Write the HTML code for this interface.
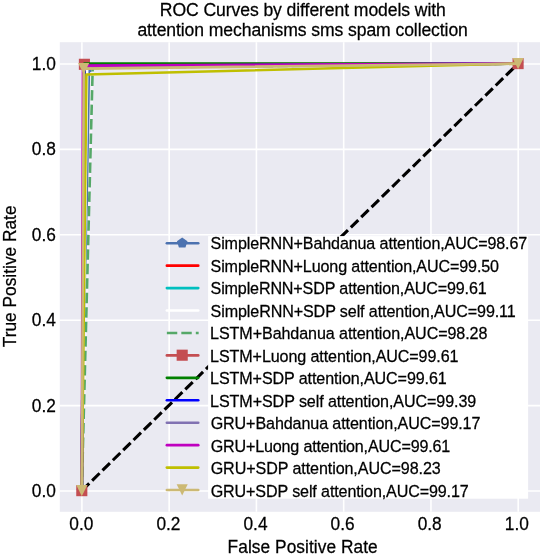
<!DOCTYPE html>
<html><head><meta charset="utf-8"><title>ROC Curves</title>
<style>html,body{margin:0;padding:0;background:#fff}body{width:551px;height:558px;overflow:hidden}svg{display:block}</style>
</head><body>
<svg width="551" height="558" viewBox="0 0 551 558" font-family="'Liberation Sans', sans-serif" fill="#000">
<rect x="0" y="0" width="551" height="558" fill="#fff"/>
<rect x="59.8" y="42.2" width="480.20" height="469.60" fill="#EAEAF2"/>
<path d="M81.90 42.2V511.8M59.8 491.00H540.0M169.16 42.2V511.8M59.8 405.60H540.0M256.42 42.2V511.8M59.8 320.20H540.0M343.68 42.2V511.8M59.8 234.80H540.0M430.94 42.2V511.8M59.8 149.40H540.0M518.20 42.2V511.8M59.8 64.00H540.0" stroke="#fff" stroke-width="1.6" fill="none"/>
<clipPath id="c"><rect x="59.8" y="42.2" width="480.20" height="469.60"/></clipPath>
<g clip-path="url(#c)" fill="none" stroke-linejoin="round" stroke-linecap="round">
<path d="M81.8 490.65L518.1 63.6" stroke="#000" stroke-width="3.1" stroke-dasharray="10.4 4.08" stroke-linecap="butt"/>
<path d="M81.8 490.65L88.9 67.5L518.1 63.6" stroke="#4C72B0" stroke-width="2.6"/>
<path d="M81.80 485.10L76.52 488.93L78.54 495.14L85.06 495.14L87.08 488.93Z" fill="#4C72B0" stroke="none"/>
<path d="M88.90 61.95L83.62 65.78L85.64 71.99L92.16 71.99L94.18 65.78Z" fill="#4C72B0" stroke="none"/>
<path d="M518.10 58.05L512.82 61.88L514.84 68.09L521.36 68.09L523.38 61.88Z" fill="#4C72B0" stroke="none"/>
<path d="M81.8 490.65L84.0 65.5L518.1 63.6" stroke="#FF0000" stroke-width="2.6"/>
<path d="M81.8 490.65L84.0 65.0L518.1 63.6" stroke="#00BFBF" stroke-width="2.6"/>
<path d="M81.8 490.65L87.2 67.0L518.1 63.6" stroke="#FFFFFF" stroke-width="2.6"/>
<path d="M81.8 490.65L92.7 67.9L518.1 63.6" stroke="#F6F2FB" stroke-width="2.4" stroke-linecap="butt"/>
<path d="M81.8 490.65L92.7 67.9L518.1 63.6" stroke="#55A868" stroke-width="2.6" stroke-dasharray="10.4 4.08" stroke-dashoffset="0.7" stroke-linecap="butt"/>
<path d="M81.8 490.65L84.4 64.3L518.1 63.6" stroke="#C44E52" stroke-width="2.6"/>
<rect x="76.25" y="485.10" width="11.1" height="11.1" fill="#C44E52" stroke="none"/>
<rect x="78.85" y="58.75" width="11.1" height="11.1" fill="#C44E52" stroke="none"/>
<rect x="512.55" y="58.05" width="11.1" height="11.1" fill="#C44E52" stroke="none"/>
<path d="M81.8 490.65L84.4 63.6L518.1 63.6" stroke="#008000" stroke-width="2.6"/>
<path d="M81.8 490.65L84.4 66.0L518.1 63.6" stroke="#0000FF" stroke-width="2.6"/>
<path d="M81.8 490.65L84.0 66.5L518.1 63.6" stroke="#8172B2" stroke-width="2.6"/>
<path d="M81.8 490.65L82.9 65.6L518.1 63.6" stroke="#BF00BF" stroke-width="2.6"/>
<path d="M81.8 490.65L86.4 74.5L518.1 63.6" stroke="#BFBF00" stroke-width="2.6"/>
<path d="M81.8 490.65L83.7 68.6L518.1 63.6" stroke="#CCB974" stroke-width="2.6"/>
<path d="M81.80 496.20L76.25 485.10L87.35 485.10Z" fill="#CCB974" stroke="none"/>
<path d="M83.70 74.15L78.15 63.05L89.25 63.05Z" fill="#CCB974" stroke="none"/>
<path d="M518.10 69.15L512.55 58.05L523.65 58.05Z" fill="#CCB974" stroke="none"/>
</g>
<rect x="208.1" y="236.1" width="320.00" height="262.60" fill="#fff"/>
<path d="M166.85 243.20H198.25" stroke="#4C72B0" stroke-width="2.6" fill="none" stroke-linecap="round"/>
<path d="M182.20 237.45L176.92 241.28L178.94 247.49L185.46 247.49L187.48 241.28Z" fill="#4C72B0" stroke="none"/>
<path d="M166.85 265.64H198.25" stroke="#FF0000" stroke-width="2.6" fill="none" stroke-linecap="round"/>
<path d="M166.85 288.08H198.25" stroke="#00BFBF" stroke-width="2.6" fill="none" stroke-linecap="round"/>
<path d="M166.85 310.52H198.25" stroke="#FFFFFF" stroke-width="2.6" fill="none" stroke-linecap="round"/>
<path d="M166.85 332.96H198.65" stroke="#55A868" stroke-width="2.6" fill="none" stroke-dasharray="10.4 4.08"/>
<path d="M166.85 355.40H198.25" stroke="#C44E52" stroke-width="2.6" fill="none" stroke-linecap="round"/>
<rect x="176.65" y="349.65" width="11.1" height="11.1" fill="#C44E52" stroke="none"/>
<path d="M166.85 377.84H198.25" stroke="#008000" stroke-width="2.6" fill="none" stroke-linecap="round"/>
<path d="M166.85 400.28H198.25" stroke="#0000FF" stroke-width="2.6" fill="none" stroke-linecap="round"/>
<path d="M166.85 422.72H198.25" stroke="#8172B2" stroke-width="2.6" fill="none" stroke-linecap="round"/>
<path d="M166.85 445.16H198.25" stroke="#BF00BF" stroke-width="2.6" fill="none" stroke-linecap="round"/>
<path d="M166.85 467.60H198.25" stroke="#BFBF00" stroke-width="2.6" fill="none" stroke-linecap="round"/>
<path d="M166.85 490.04H198.25" stroke="#CCB974" stroke-width="2.6" fill="none" stroke-linecap="round"/>
<path d="M182.20 495.39L176.65 484.29L187.75 484.29Z" fill="#CCB974" stroke="none"/>
<g stroke="#000" stroke-width="0.25">
<text transform="translate(159.76 15.70) scale(1 1.03)" font-size="17.6" letter-spacing="-0.088">ROC Curves by different models with</text>
<text transform="translate(137.40 35.85) scale(1 1.03)" font-size="17.6" letter-spacing="-0.101">attention mechanisms sms spam collection</text>
<text transform="translate(210.55 249.25) scale(1 1.03)" font-size="16.1" letter-spacing="-0.117">SimpleRNN+Bahdanua attention,AUC=98.67</text>
<text transform="translate(210.55 271.75) scale(1 1.03)" font-size="16.1" letter-spacing="-0.114">SimpleRNN+Luong attention,AUC=99.50</text>
<text transform="translate(210.55 294.25) scale(1 1.03)" font-size="16.1" letter-spacing="-0.135">SimpleRNN+SDP attention,AUC=99.61</text>
<text transform="translate(210.55 316.75) scale(1 1.03)" font-size="16.1" letter-spacing="-0.097">SimpleRNN+SDP self attention,AUC=99.11</text>
<text transform="translate(210.10 339.25) scale(1 1.03)" font-size="16.1" letter-spacing="-0.081">LSTM+Bahdanua attention,AUC=98.28</text>
<text transform="translate(210.10 361.75) scale(1 1.03)" font-size="16.1" letter-spacing="-0.100">LSTM+Luong attention,AUC=99.61</text>
<text transform="translate(210.10 384.25) scale(1 1.03)" font-size="16.1" letter-spacing="-0.099">LSTM+SDP attention,AUC=99.61</text>
<text transform="translate(210.10 406.75) scale(1 1.03)" font-size="16.1" letter-spacing="-0.083">LSTM+SDP self attention,AUC=99.39</text>
<text transform="translate(210.67 429.25) scale(1 1.03)" font-size="16.1" letter-spacing="-0.097">GRU+Bahdanua attention,AUC=99.17</text>
<text transform="translate(210.67 451.75) scale(1 1.03)" font-size="16.1" letter-spacing="-0.163">GRU+Luong attention,AUC=99.61</text>
<text transform="translate(210.67 474.25) scale(1 1.03)" font-size="16.1" letter-spacing="-0.082">GRU+SDP attention,AUC=98.23</text>
<text transform="translate(210.67 496.75) scale(1 1.03)" font-size="16.1" letter-spacing="-0.116">GRU+SDP self attention,AUC=99.17</text>
<text transform="translate(227.62 552.50) scale(1 1.03)" font-size="17.3" letter-spacing="0.067">False Positive Rate</text>
<text transform="translate(15.95 347.25) rotate(-90) scale(1 1.03)" font-size="17.3" letter-spacing="0.014">True Positive Rate</text>
<text transform="translate(81.30 530.40) scale(1 1.03)" font-size="17.3" text-anchor="middle">0.0</text>
<text transform="translate(55.85 496.90) scale(1 1.03)" font-size="17.3" text-anchor="end">0.0</text>
<text transform="translate(168.40 530.40) scale(1 1.03)" font-size="17.3" text-anchor="middle">0.2</text>
<text transform="translate(55.85 411.50) scale(1 1.03)" font-size="17.3" text-anchor="end">0.2</text>
<text transform="translate(255.50 530.40) scale(1 1.03)" font-size="17.3" text-anchor="middle">0.4</text>
<text transform="translate(55.85 326.10) scale(1 1.03)" font-size="17.3" text-anchor="end">0.4</text>
<text transform="translate(342.60 530.40) scale(1 1.03)" font-size="17.3" text-anchor="middle">0.6</text>
<text transform="translate(55.85 240.70) scale(1 1.03)" font-size="17.3" text-anchor="end">0.6</text>
<text transform="translate(429.70 530.40) scale(1 1.03)" font-size="17.3" text-anchor="middle">0.8</text>
<text transform="translate(55.85 155.30) scale(1 1.03)" font-size="17.3" text-anchor="end">0.8</text>
<text transform="translate(516.80 530.40) scale(1 1.03)" font-size="17.3" text-anchor="middle">1.0</text>
<text transform="translate(55.85 69.90) scale(1 1.03)" font-size="17.3" text-anchor="end">1.0</text>
</g>
</svg>
</body></html>
